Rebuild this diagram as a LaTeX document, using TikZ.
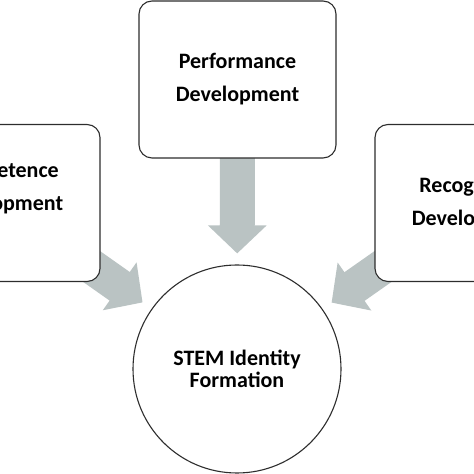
\documentclass[tikz,border=0pt]{standalone}
\usepackage{fontspec}
\setmainfont{Carlito}
\usetikzlibrary{arrows.meta, backgrounds}
\definecolor{arrowgray}{RGB}{186,195,195}
\definecolor{linegray}{RGB}{45,45,45}

\begin{document}
\begin{tikzpicture}[x=1pt,y=1pt,
        box/.style={draw=linegray, line width=1.1pt, fill=white, rounded corners=13pt,
          minimum width=197pt, minimum height=157pt, align=center,
          font=\fontsize{22}{33}\selectfont\bfseries},
        core/.style={circle, draw=linegray, line width=1.1pt, fill=white, minimum size=208pt,
          inner sep=0pt, align=center, font=\fontsize{22}{22}\selectfont\bfseries},
        flow/.style={draw=arrowgray, line width=35pt, -{Triangle[width=57pt,length=28pt]}, shorten >=11pt}
        ]
        \useasboundingbox (0,0) rectangle (474,474);

        \node[box]  (perf)  at (237.5,394.5) {Performance\\Development};
        \node[box]  (comp)  at (1.5,271)     {Competence\\Development\\\mbox{}};
        \node[box]  (recog) at (473.5,271)   {Recognition\\Development};
        \node[core] (stem)  at (237,105)     {STEM Identity\\Formation};

        \begin{scope}[on background layer]
          \path (perf.center)  edge[flow] (stem)
                (comp.center)  edge[flow] (stem)
                (recog.center) edge[flow] (stem);
        \end{scope}
      \end{tikzpicture}
\end{document}
